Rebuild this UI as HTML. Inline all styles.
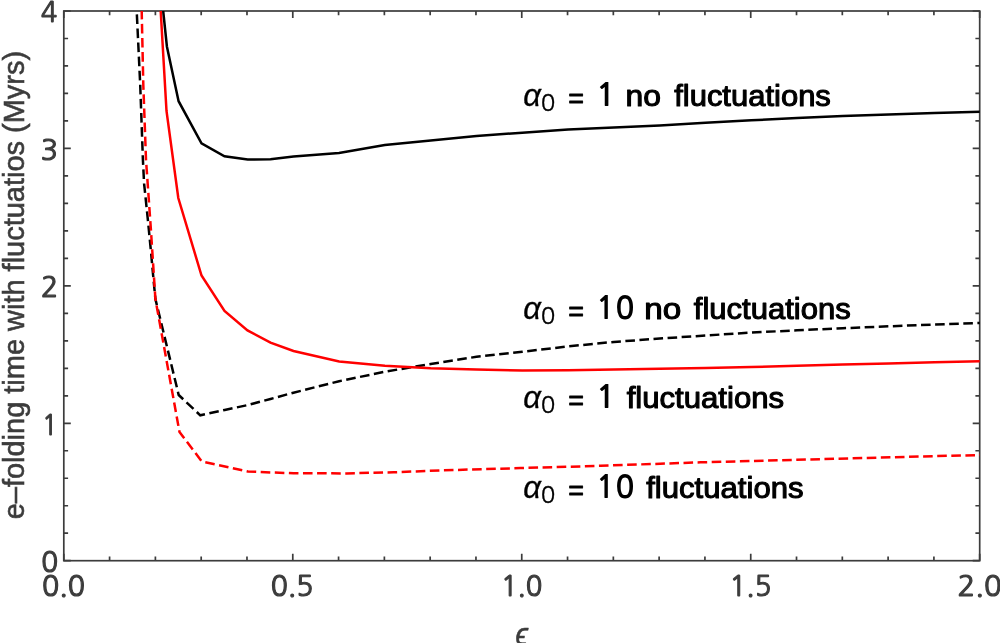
<!DOCTYPE html>
<html><head><meta charset="utf-8"><title>e-folding time plot</title><style>html,body{margin:0;padding:0;background:#fff;width:1000px;height:643px;overflow:hidden}svg{display:block}</style></head><body>
<svg width="1000" height="643" viewBox="0 0 1000 643"><defs><clipPath id="c"><rect x="63.8" y="11.0" width="915.90" height="549.70"/></clipPath></defs><rect width="1000" height="643" fill="#fff"/>
<rect x="63.8" y="11.0" width="915.90" height="549.70" fill="none" stroke="#3c3c3c" stroke-width="1.7"/>
<path d="M63.80 560.70V553.70M63.80 11.00V18.00M109.59 560.70V556.40M109.59 11.00V15.30M155.39 560.70V556.40M155.39 11.00V15.30M201.19 560.70V556.40M201.19 11.00V15.30M246.98 560.70V556.40M246.98 11.00V15.30M292.78 560.70V553.70M292.78 11.00V18.00M338.57 560.70V556.40M338.57 11.00V15.30M384.37 560.70V556.40M384.37 11.00V15.30M430.16 560.70V556.40M430.16 11.00V15.30M475.96 560.70V556.40M475.96 11.00V15.30M521.75 560.70V553.70M521.75 11.00V18.00M567.55 560.70V556.40M567.55 11.00V15.30M613.34 560.70V556.40M613.34 11.00V15.30M659.13 560.70V556.40M659.13 11.00V15.30M704.93 560.70V556.40M704.93 11.00V15.30M750.73 560.70V553.70M750.73 11.00V18.00M796.52 560.70V556.40M796.52 11.00V15.30M842.32 560.70V556.40M842.32 11.00V15.30M888.11 560.70V556.40M888.11 11.00V15.30M933.91 560.70V556.40M933.91 11.00V15.30M979.70 560.70V553.70M979.70 11.00V18.00M63.80 560.70H70.80M979.70 560.70H972.70M63.80 533.22H68.10M979.70 533.22H975.40M63.80 505.73H68.10M979.70 505.73H975.40M63.80 478.25H68.10M979.70 478.25H975.40M63.80 450.76H68.10M979.70 450.76H975.40M63.80 423.28H70.80M979.70 423.28H972.70M63.80 395.79H68.10M979.70 395.79H975.40M63.80 368.31H68.10M979.70 368.31H975.40M63.80 340.82H68.10M979.70 340.82H975.40M63.80 313.34H68.10M979.70 313.34H975.40M63.80 285.85H70.80M979.70 285.85H972.70M63.80 258.37H68.10M979.70 258.37H975.40M63.80 230.88H68.10M979.70 230.88H975.40M63.80 203.39H68.10M979.70 203.39H975.40M63.80 175.91H68.10M979.70 175.91H975.40M63.80 148.43H70.80M979.70 148.43H972.70M63.80 120.94H68.10M979.70 120.94H975.40M63.80 93.45H68.10M979.70 93.45H975.40M63.80 65.97H68.10M979.70 65.97H975.40M63.80 38.49H68.10M979.70 38.49H975.40M63.80 11.00H70.80M979.70 11.00H972.70" stroke="#3c3c3c" stroke-width="1.7" fill="none"/>
<g clip-path="url(#c)"><g transform="translate(0.5 0)"><path d="M136.2 11.0 L139.7 84.6 L142.4 159.6 L143.6 183.6 L147.6 222.0 L150.4 250.8 L153.2 281.6 L154.9 299.0 L178.2 395.0 L199.8 415.3 L224.2 410.0 L247.0 405.1 L270.0 399.0 L292.9 392.7 L338.6 381.2 L384.4 371.7 L430.2 364.0 L476.0 356.8 L521.8 351.8 L567.6 346.4 L613.4 341.9 L659.2 338.6 L705.0 335.5 L750.8 332.6 L796.5 330.3 L842.3 328.2 L888.1 326.3 L933.9 324.6 L979.7 323.0" fill="none" stroke="#000" stroke-width="2.5" stroke-linejoin="miter" stroke-dasharray="9.6 4.5" stroke-dashoffset="10.7"/><path d="M141.2 11.0 L142.8 84.6 L145.5 159.6 L150.4 229.6 L154.9 299.0 L179.0 432.0 L201.3 461.5 L247.5 471.5 L293.0 473.3 L346.0 473.4 L393.0 472.3 L440.0 470.4 L520.0 468.1 L600.0 465.8 L700.0 462.3 L979.7 455.0" fill="none" stroke="#f00" stroke-width="2.5" stroke-linejoin="miter" stroke-dasharray="9.6 4.5" stroke-dashoffset="1.2"/><path d="M160.2 11.0 L166.0 111.0 L177.8 198.0 L201.0 275.5 L224.0 311.0 L247.0 330.4 L270.0 342.6 L293.0 351.0 L338.7 361.5 L384.4 365.8 L430.2 368.2 L476.0 369.5 L521.8 370.5 L567.6 370.3 L613.4 369.5 L659.2 368.8 L705.0 368.0 L750.8 367.0 L796.5 365.8 L842.3 364.6 L888.1 363.5 L933.9 362.3 L979.7 361.2" fill="none" stroke="#f00" stroke-width="2.5" stroke-linejoin="miter"/><path d="M162.7 11.0 L166.4 46.5 L178.1 101.2 L201.0 143.4 L224.0 156.3 L247.2 159.6 L270.0 159.3 L293.0 156.6 L338.5 152.9 L384.3 144.9 L430.2 140.4 L476.0 135.9 L521.8 132.7 L567.6 129.5 L613.4 127.5 L659.2 125.4 L705.0 122.8 L750.8 120.3 L796.5 117.9 L842.3 115.9 L888.1 114.6 L933.9 112.9 L979.7 111.8" fill="none" stroke="#000" stroke-width="2.5" stroke-linejoin="miter"/></g></g>
<text x="41.27" y="572.10" font-family="NanumGothic, 'Liberation Sans', sans-serif" font-size="29" stroke="#3c3c3c" stroke-width="1.2" stroke-linejoin="round" fill="#3c3c3c" textLength="16.89" lengthAdjust="spacingAndGlyphs">0</text><text x="42.17" y="434.68" font-family="NanumGothic, 'Liberation Sans', sans-serif" font-size="29" stroke="#3c3c3c" stroke-width="1.2" stroke-linejoin="round" fill="#3c3c3c" textLength="15.09" lengthAdjust="spacingAndGlyphs">1</text><text x="40.95" y="297.25" font-family="NanumGothic, 'Liberation Sans', sans-serif" font-size="29" stroke="#3c3c3c" stroke-width="1.2" stroke-linejoin="round" fill="#3c3c3c" textLength="17.20" lengthAdjust="spacingAndGlyphs">2</text><text x="40.70" y="159.83" font-family="NanumGothic, 'Liberation Sans', sans-serif" font-size="29" stroke="#3c3c3c" stroke-width="1.2" stroke-linejoin="round" fill="#3c3c3c" textLength="17.24" lengthAdjust="spacingAndGlyphs">3</text><text x="40.91" y="22.40" font-family="NanumGothic, 'Liberation Sans', sans-serif" font-size="29" stroke="#3c3c3c" stroke-width="1.2" stroke-linejoin="round" fill="#3c3c3c" textLength="16.12" lengthAdjust="spacingAndGlyphs">4</text><text x="41.94" y="595.60" font-family="NanumGothic, 'Liberation Sans', sans-serif" font-size="29" stroke="#3c3c3c" stroke-width="1.2" stroke-linejoin="round" fill="#3c3c3c" textLength="43.07" lengthAdjust="spacingAndGlyphs">0.0</text><text x="270.65" y="595.60" font-family="NanumGothic, 'Liberation Sans', sans-serif" font-size="29" stroke="#3c3c3c" stroke-width="1.2" stroke-linejoin="round" fill="#3c3c3c" textLength="42.82" lengthAdjust="spacingAndGlyphs">0.5</text><text x="500.93" y="595.60" font-family="NanumGothic, 'Liberation Sans', sans-serif" font-size="29" stroke="#3c3c3c" stroke-width="1.2" stroke-linejoin="round" fill="#3c3c3c" textLength="41.43" lengthAdjust="spacingAndGlyphs">1.0</text><text x="729.59" y="595.60" font-family="NanumGothic, 'Liberation Sans', sans-serif" font-size="29" stroke="#3c3c3c" stroke-width="1.2" stroke-linejoin="round" fill="#3c3c3c" textLength="41.84" lengthAdjust="spacingAndGlyphs">1.5</text><text x="957.60" y="595.60" font-family="NanumGothic, 'Liberation Sans', sans-serif" font-size="29" stroke="#3c3c3c" stroke-width="1.2" stroke-linejoin="round" fill="#3c3c3c" textLength="44.15" lengthAdjust="spacingAndGlyphs">2.0</text>
<text transform="rotate(-90)" x="-519.31" y="24.1" font-size="30" font-family="'Liberation Sans', Arial, sans-serif" fill="#3c3c3c" stroke="#3c3c3c" stroke-width="0.6" textLength="468.36" lengthAdjust="spacingAndGlyphs">e–folding time with fluctuatios (Myrs)</text>
<text x="515.56" y="645.20" font-family="'Liberation Sans', Arial, sans-serif" font-size="31" font-style="italic" stroke="#3c3c3c" stroke-width="0.6" stroke-linejoin="round" fill="#3c3c3c" textLength="12.46" lengthAdjust="spacingAndGlyphs">ϵ</text>
<g><text x="523.31" y="105.80" font-family="'Liberation Sans', Arial, sans-serif" font-size="31" font-style="italic" stroke="#000" stroke-width="0.3" stroke-linejoin="round" fill="#000" textLength="17.71" lengthAdjust="spacingAndGlyphs">α</text><text x="540.74" y="110.80" font-family="NanumGothic, 'Liberation Sans', sans-serif" font-size="22.4" stroke="#000" stroke-width="0.3" stroke-linejoin="round" fill="#000" textLength="14.61" lengthAdjust="spacingAndGlyphs">0</text><text x="568.27" y="108.10" font-family="'Liberation Sans', Arial, sans-serif" font-size="28" stroke="#000" stroke-width="0.8" stroke-linejoin="round" fill="#000" textLength="15.78" lengthAdjust="spacingAndGlyphs">=</text><text x="595.52" y="105.80" font-family="NanumGothic, 'Liberation Sans', sans-serif" font-size="32" font-weight="bold" fill="#000" textLength="20.61" lengthAdjust="spacingAndGlyphs">1</text><text x="625.58" y="105.80" font-family="'Liberation Sans', Arial, sans-serif" font-size="30" stroke="#000" stroke-width="1.1" stroke-linejoin="round" fill="#000" textLength="35.38" lengthAdjust="spacingAndGlyphs">no</text><text x="674.18" y="105.80" font-family="'Liberation Sans', Arial, sans-serif" font-size="30" stroke="#000" stroke-width="1.1" stroke-linejoin="round" fill="#000" textLength="156.68" lengthAdjust="spacingAndGlyphs">fluctuations</text></g>
<g><text x="523.31" y="319.00" font-family="'Liberation Sans', Arial, sans-serif" font-size="31" font-style="italic" stroke="#000" stroke-width="0.3" stroke-linejoin="round" fill="#000" textLength="17.71" lengthAdjust="spacingAndGlyphs">α</text><text x="540.74" y="324.00" font-family="NanumGothic, 'Liberation Sans', sans-serif" font-size="22.4" stroke="#000" stroke-width="0.3" stroke-linejoin="round" fill="#000" textLength="14.61" lengthAdjust="spacingAndGlyphs">0</text><text x="568.27" y="321.30" font-family="'Liberation Sans', Arial, sans-serif" font-size="28" stroke="#000" stroke-width="0.8" stroke-linejoin="round" fill="#000" textLength="15.78" lengthAdjust="spacingAndGlyphs">=</text><text x="595.79" y="319.00" font-family="NanumGothic, 'Liberation Sans', sans-serif" font-size="32" font-weight="bold" fill="#000" textLength="38.71" lengthAdjust="spacingAndGlyphs">10</text><text x="644.39" y="319.00" font-family="'Liberation Sans', Arial, sans-serif" font-size="30" stroke="#000" stroke-width="1.1" stroke-linejoin="round" fill="#000" textLength="36.94" lengthAdjust="spacingAndGlyphs">no</text><text x="693.78" y="319.00" font-family="'Liberation Sans', Arial, sans-serif" font-size="30" stroke="#000" stroke-width="1.1" stroke-linejoin="round" fill="#000" textLength="156.99" lengthAdjust="spacingAndGlyphs">fluctuations</text></g>
<g><text x="523.31" y="408.00" font-family="'Liberation Sans', Arial, sans-serif" font-size="31" font-style="italic" stroke="#000" stroke-width="0.3" stroke-linejoin="round" fill="#000" textLength="17.71" lengthAdjust="spacingAndGlyphs">α</text><text x="540.74" y="413.00" font-family="NanumGothic, 'Liberation Sans', sans-serif" font-size="22.4" stroke="#000" stroke-width="0.3" stroke-linejoin="round" fill="#000" textLength="14.61" lengthAdjust="spacingAndGlyphs">0</text><text x="568.27" y="410.30" font-family="'Liberation Sans', Arial, sans-serif" font-size="28" stroke="#000" stroke-width="0.8" stroke-linejoin="round" fill="#000" textLength="15.78" lengthAdjust="spacingAndGlyphs">=</text><text x="595.52" y="408.00" font-family="NanumGothic, 'Liberation Sans', sans-serif" font-size="32" font-weight="bold" fill="#000" textLength="20.61" lengthAdjust="spacingAndGlyphs">1</text><text x="626.68" y="408.00" font-family="'Liberation Sans', Arial, sans-serif" font-size="30" stroke="#000" stroke-width="1.1" stroke-linejoin="round" fill="#000" textLength="157.39" lengthAdjust="spacingAndGlyphs">fluctuations</text></g>
<g><text x="523.31" y="497.60" font-family="'Liberation Sans', Arial, sans-serif" font-size="31" font-style="italic" stroke="#000" stroke-width="0.3" stroke-linejoin="round" fill="#000" textLength="17.71" lengthAdjust="spacingAndGlyphs">α</text><text x="540.74" y="502.60" font-family="NanumGothic, 'Liberation Sans', sans-serif" font-size="22.4" stroke="#000" stroke-width="0.3" stroke-linejoin="round" fill="#000" textLength="14.61" lengthAdjust="spacingAndGlyphs">0</text><text x="568.27" y="499.90" font-family="'Liberation Sans', Arial, sans-serif" font-size="28" stroke="#000" stroke-width="0.8" stroke-linejoin="round" fill="#000" textLength="15.78" lengthAdjust="spacingAndGlyphs">=</text><text x="595.79" y="497.60" font-family="NanumGothic, 'Liberation Sans', sans-serif" font-size="32" font-weight="bold" fill="#000" textLength="38.71" lengthAdjust="spacingAndGlyphs">10</text><text x="646.18" y="497.60" font-family="'Liberation Sans', Arial, sans-serif" font-size="30" stroke="#000" stroke-width="1.1" stroke-linejoin="round" fill="#000" textLength="157.39" lengthAdjust="spacingAndGlyphs">fluctuations</text></g>
</svg>
</body></html>
